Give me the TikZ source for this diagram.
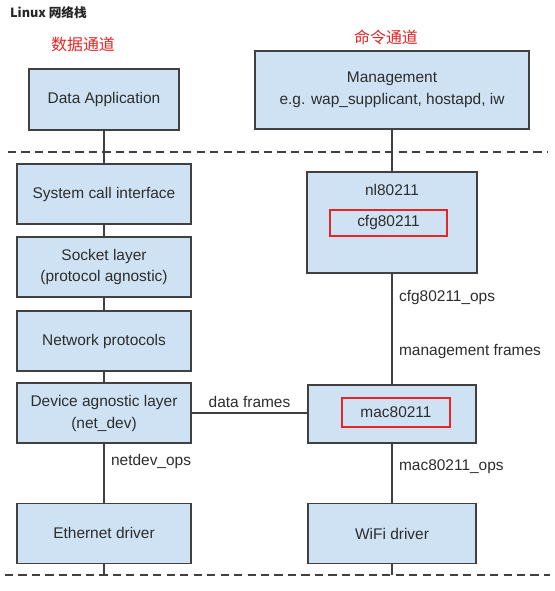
\documentclass[tikz,border=0pt]{standalone}
\usepackage{fontspec}
\setmainfont{Liberation Sans}
\newfontfamily\cjk{Noto Sans CJK SC}
\usetikzlibrary{positioning}
\definecolor{layerblue}{RGB}{207,226,243}
\definecolor{edgegray}{RGB}{64,64,64}
\definecolor{textgray}{RGB}{45,45,45}
\definecolor{markred}{RGB}{228,38,38}

\begin{document}
\begin{tikzpicture}[x=0.03cm, y=-0.03cm,
		layer/.style={draw=edgegray, line width=1.5pt, fill=layerblue, text=textgray, align=center, minimum width=5.22cm, minimum height=1.8cm, font=\fontsize{13.2}{18.5}\selectfont},
		hilite/.style={draw=markred, line width=1.3pt, text=textgray, font=\fontsize{13.2}{16}\selectfont},
		link/.style={draw=edgegray, line width=1.4pt},
		sep/.style={draw=edgegray, line width=1.4pt, dash pattern=on 7pt off 4.5pt},
		opslabel/.style={text=textgray, font=\fontsize{13.2}{16}\selectfont},
		chanlabel/.style={text=markred, font=\cjk\fontsize{13.6}{16}\selectfont}]
	\fill[white] (0,0) rectangle (554,591);
	\useasboundingbox (0,0) rectangle (554,591);
	
	\node[anchor=west, font=\cjk\bfseries\fontsize{10.8}{12}\selectfont, text=black!85] (title) at (6,13) {Linux 网络栈};
	\node[chanlabel] (datachan) at (83,44) {数据通道};
	\node[chanlabel] (cmdchan) at (386,37) {命令通道};
	
	% data path
	\node[layer, minimum width=4.5cm, minimum height=1.83cm] (app) at (104,99.5) {Data Application};
	\node[layer] (syscall) at (104,194) {System call interface};
	\node[layer, below=0.34cm of syscall] (socket) {Socket layer\\(protocol agnostic)};
	\node[layer, below=0.37cm of socket] (netproto) {Network protocols};
	\node[layer, below=0.31cm of netproto] (device) {Device agnostic layer\\(net\_dev)};
	\node[layer, below=1.75cm of device] (ether) {Ethernet driver};
	
	% command path
	\node[layer, minimum width=8.22cm, minimum height=2.34cm] (mgmt) at (392,90) {Management\\e.g. wap\_supplicant, hostapd, iw};
	\node[layer, minimum width=5.1cm, minimum height=3.03cm] (nl) at (392,222.5) {};
	\node[opslabel] (nltitle) at (392,190) {nl80211};
	\node[hilite, minimum width=3.51cm, minimum height=0.78cm] (cfg) at (388.5,223) {cfg80211};
	\node[layer, minimum width=5.04cm, minimum height=1.74cm] (mac) at (392,414) {};
	\node[hilite, minimum width=3.24cm, minimum height=0.87cm] (macred) at (396,412.5) {mac80211};
	\node[layer, minimum width=5.04cm] (wifi) at (392,533.5) {WiFi driver};
	
	% user / kernel / hardware borders
	\coordinate (topL) at (8,152);
	\coordinate (topR) at (548,152);
	\coordinate (botL) at (5,575);
	\coordinate (botR) at (550,575);
	\coordinate (etherfoot) at (104,575);
	\coordinate (wififoot) at (392,575);
	\draw[sep] (topL) -- (topR);
	\draw[sep] (botL) -- (botR);
	
	\draw[link] (app) -- (syscall);
	\draw[link] (syscall) -- (socket);
	\draw[link] (socket) -- (netproto);
	\draw[link] (netproto) -- (device);
	\draw[link] (device) -- node[opslabel, pos=0.3, right=2pt] {netdev\_ops} (ether);
	\draw[link] (ether) -- (etherfoot);
	\draw[link] (device.east) -- node[opslabel, above=1pt] {data frames} (device.east -| mac.west);
	
	\draw[link] (mgmt) -- (nl);
	\draw[link] (nl) -- node[opslabel, pos=0.21, right=2pt] {cfg80211\_ops} node[opslabel, pos=0.7, right=2pt] {management frames} (mac);
	\draw[link] (mac) -- node[opslabel, pos=0.38, right=2pt] {mac80211\_ops} (wifi);
	\draw[link] (wifi) -- (wififoot);
\end{tikzpicture}
\end{document}
